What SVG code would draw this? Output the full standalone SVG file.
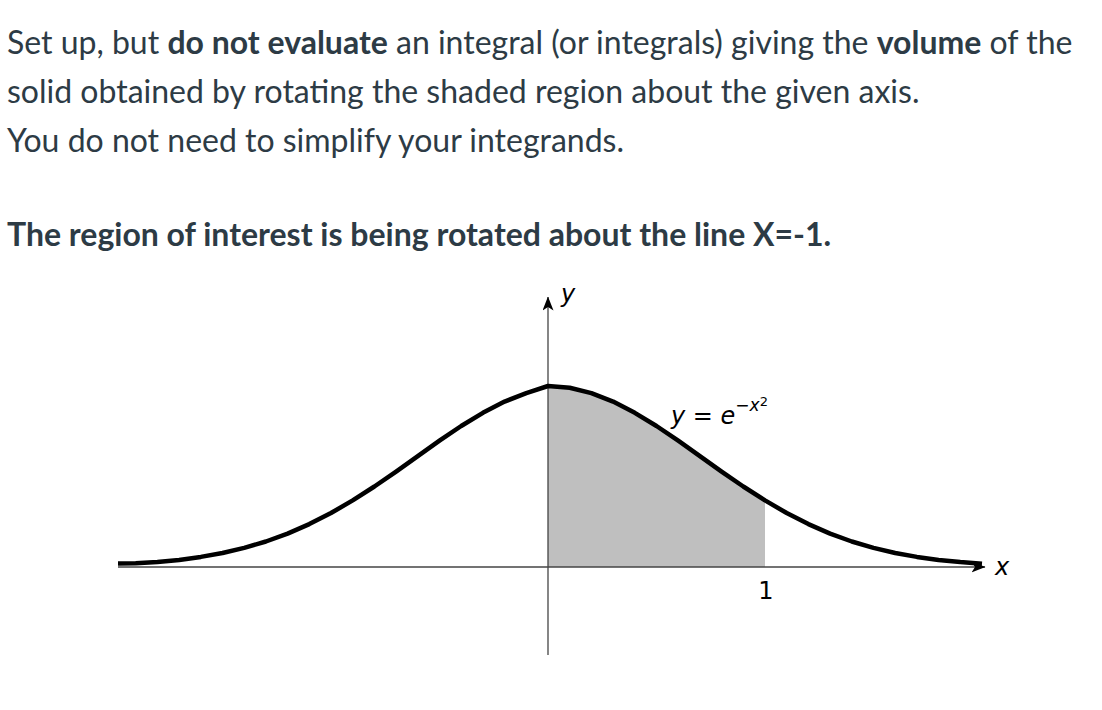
<svg xmlns="http://www.w3.org/2000/svg" width="1102" height="710" viewBox="0 0 1102 710">
<style>
.t{font-family:Lato,"Liberation Sans",sans-serif;font-size:32px;fill:#2d3b45}
.b{font-weight:bold}
.m{font-family:"DejaVu Sans","Liberation Sans",sans-serif;font-size:24px;fill:#000}
.i{font-style:italic}
.axis{stroke:#444;stroke-width:1.3;fill:none}
.curve{stroke:#000;stroke-width:4.5;fill:none;stroke-linecap:butt;stroke-linejoin:round}
</style>
<defs>
<marker id="ah" viewBox="0 0 14 11" refX="13.5" refY="5.5" markerWidth="14" markerHeight="11" markerUnits="userSpaceOnUse" orient="auto">
<path d="M0,0 L14,5.5 L0,11 L3.5,5.5 z" fill="#000"/>
</marker>
</defs>
<g id="text">
<text class="t" x="7" y="54">Set up, but <tspan class="b">do not evaluate</tspan> an integral (or integrals) giving the <tspan class="b">volume</tspan> of the</text>
<text class="t" x="7" y="103">solid obtained by rotating the shaded region about the given axis.</text>
<text class="t" x="7" y="152">You do not need to simplify your integrands.</text>
<text class="t b" x="7" y="246">The region of interest is being rotated about the line X=-1.</text>
</g>
<g id="region">
<path d="M548,567 L548,386 L569.7,387.8 L591.4,393.1 L613.1,401.6 L634.8,412.8 L656.5,426 L678.2,440.7 L699.9,456.1 L721.6,471.6 L743.3,486.5 L765,500.4 L765,567 Z" fill="#bfbfbf"/>
</g>
<g id="connectors">
<line class="axis" x1="118" y1="567" x2="985" y2="567" marker-end="url(#ah)"/>
<line class="axis" x1="548" y1="655" x2="548" y2="297" marker-end="url(#ah)"/>
</g>
<g id="curve">
<path class="curve" d="M118,563.6 L135.7,563.3 L157.4,562.1 L179.1,559.9 L200.8,556.9 L222.5,553 L244.2,547.9 L265.9,541.5 L287.6,533.6 L309.3,524.1 L331,513 L352.7,500.4 L374.4,486.5 L396.1,471.6 L417.8,456.1 L439.5,440.7 L461.2,426 L482.9,412.8 L504.6,401.6 L526.3,393.1 L548,386 L569.7,387.8 L591.4,393.1 L613.1,401.6 L634.8,412.8 L656.5,426 L678.2,440.7 L699.9,456.1 L721.6,471.6 L743.3,486.5 L765,500.4 L786.7,513 L808.4,524.1 L830.1,533.6 L851.8,541.5 L873.5,547.9 L895.2,553 L916.9,556.9 L938.6,559.9 L960.3,562.1 L982,563.7"/>
</g>
<g id="labels">
<text class="m i" x="561" y="302">y</text>
<text class="m i" x="995" y="575">x</text>
<text class="m" x="671" y="424"><tspan class="i">y</tspan> = <tspan class="i">e</tspan><tspan font-size="17" dy="-13">−<tspan class="i">x</tspan></tspan><tspan font-size="13" dy="-5">2</tspan></text>
<text class="m" x="766" y="599" text-anchor="middle">1</text>
</g>
</svg>
